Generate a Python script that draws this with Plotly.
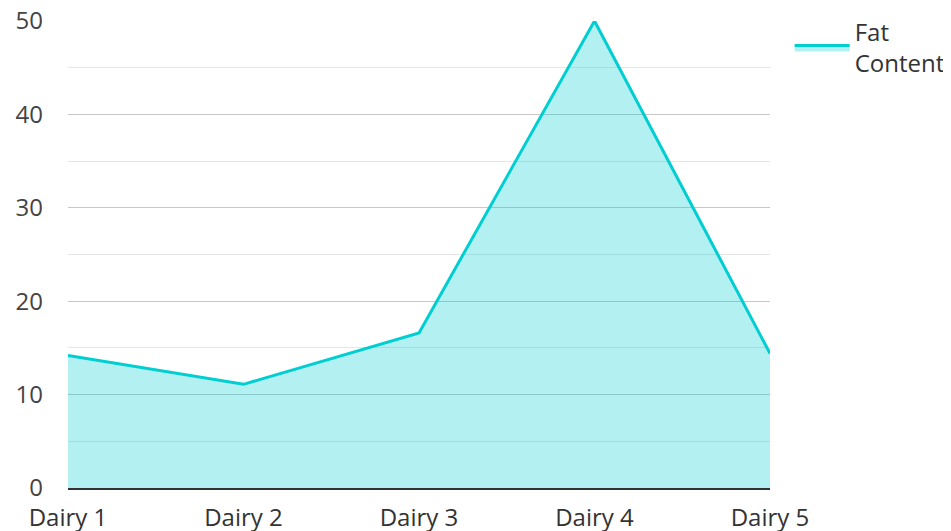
import plotly.graph_objects as go

categories = ["Dairy 1", "Dairy 2", "Dairy 3", "Dairy 4", "Dairy 5"]
fat_content = [14.2, 11.1, 16.6, 50, 14.4]
series_name = "Fat<br>Content"

fig = go.Figure()
fig.add_trace(go.Scatter(
    x=categories, y=fat_content, name=series_name, mode="lines",
    line=dict(color="#00CED1", width=3),
    fill="tozeroy", fillcolor="rgba(0,206,209,0.3)",
))

fig.update_layout(
    width=943, height=523,
    margin=dict(l=60, r=181, t=13, b=43, autoexpand=False),
    paper_bgcolor="white", plot_bgcolor="white",
    font=dict(family="Open Sans", size=24, color="#444"),
    showlegend=True,
    legend=dict(x=1.028, y=1.024, xanchor="left", yanchor="top",
                font=dict(size=24, color="#333"), itemwidth=55),
    xaxis=dict(range=[0, 4], showgrid=False, showline=True, linecolor="#333",
               linewidth=2, ticks="", ticklabelstandoff=7, automargin=False,
               ticklabeloverflow="allow", tickfont=dict(color="#333")),
    yaxis=dict(range=[0, 50], dtick=10, showgrid=True, gridcolor="#c8c8c8", gridwidth=1,
               zeroline=False, ticks="", ticklabelstandoff=24, automargin=False,
               ticklabeloverflow="allow",
               minor=dict(dtick=5, showgrid=True, gridcolor="#e6e6e6", gridwidth=1)),
)

fig.write_html("out.html")
